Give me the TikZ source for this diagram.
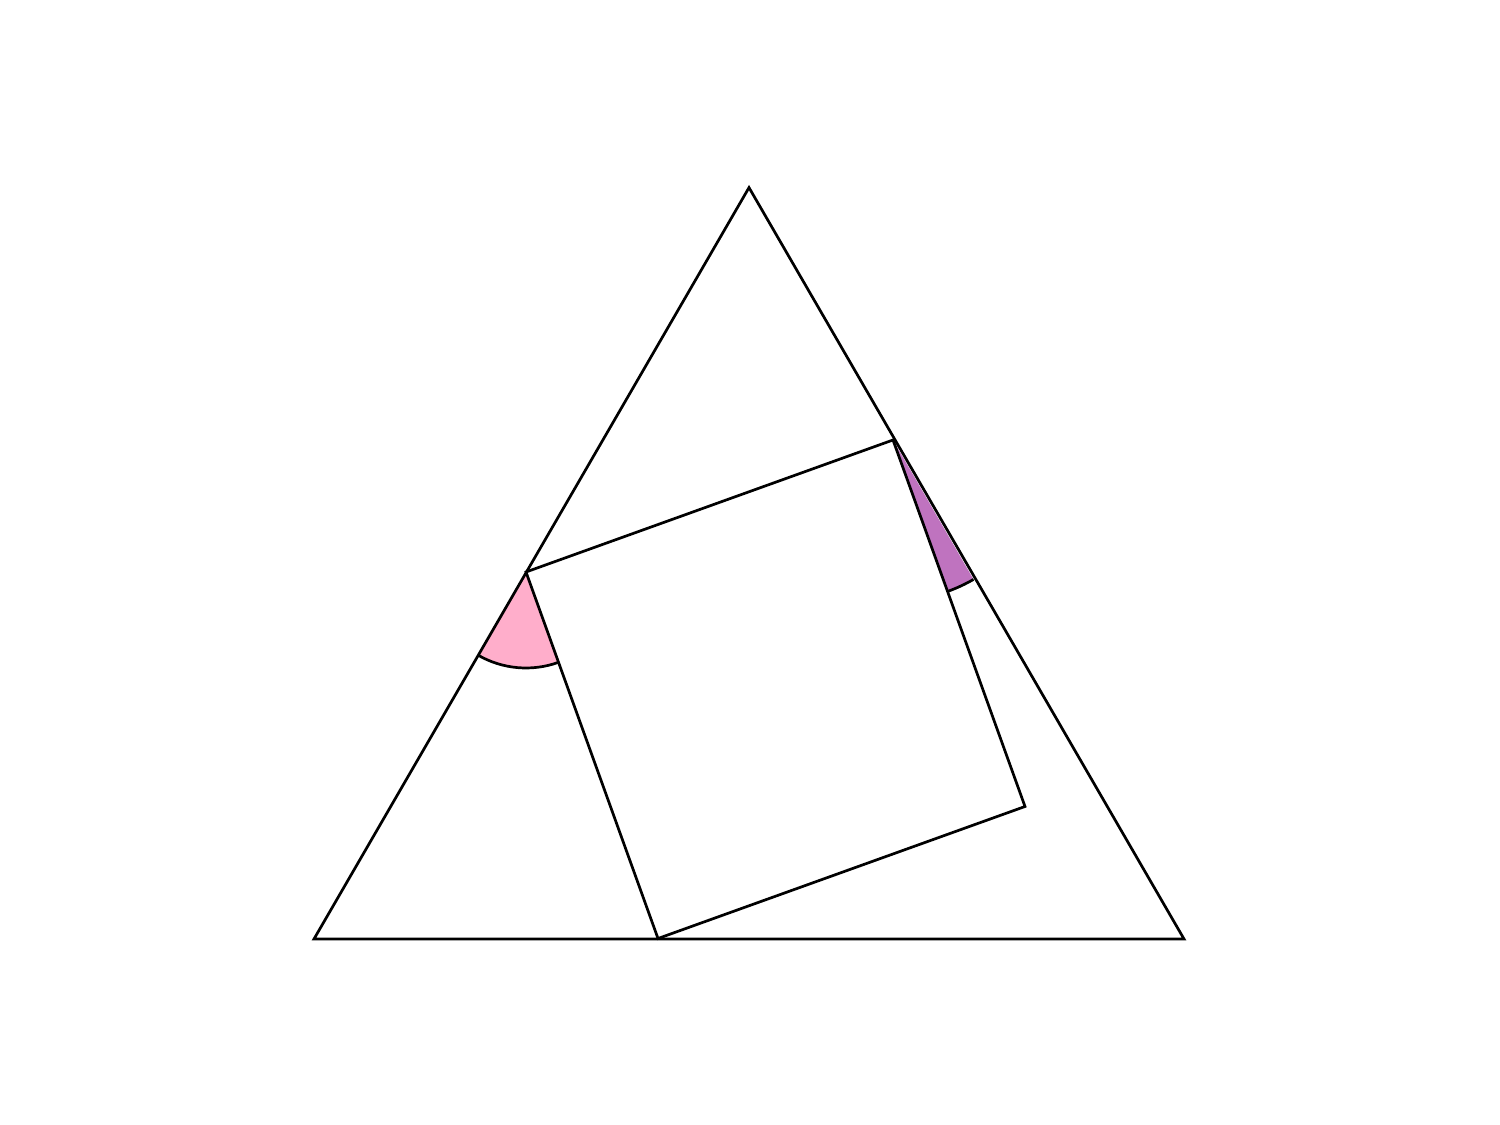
\documentclass[tikz,border=0pt]{standalone}
\usetikzlibrary{calc}
\definecolor{pinkfill}{HTML}{FFAECB}
\definecolor{purplefill}{HTML}{BF73BF}
\tikzset{
  edge/.style={draw=black, line width=2.7pt, line join=miter},
  anglefill/.style={line width=2.7pt, draw=black}
}
\begin{document}
\begin{tikzpicture}[x=1pt,y=1pt]
\useasboundingbox (0,0) rectangle (1500,1125);
% triangle vertices
\coordinate (L) at (314,186);
\coordinate (R) at (1184,186);
\coordinate (T) at (749,937.4);
% square vertices
\coordinate (A) at (526,553);
\coordinate (D) at (658,186.5);
\coordinate (B) at (893,685);
\coordinate (C) at (1025,318.5);
% angle fills
\fill[pinkfill] (A) -- ++(240:96) arc[start angle=240,end angle=289.8,radius=96] -- cycle;
\draw[anglefill] ($(A)+(240:96)$) arc[start angle=240,end angle=289.8,radius=96];
\fill[purplefill] (B) -- ++(289.8:161) arc[start angle=289.8,end angle=300,radius=161] -- cycle;
\draw[anglefill] ($(B)+(289.8:161)$) arc[start angle=289.8,end angle=300,radius=161];
% triangle
\draw[edge] (L) -- (R) -- (T) -- cycle;
% square
\draw[edge] (A) -- (B) -- (C) -- (D) -- cycle;
\end{tikzpicture}
\end{document}
